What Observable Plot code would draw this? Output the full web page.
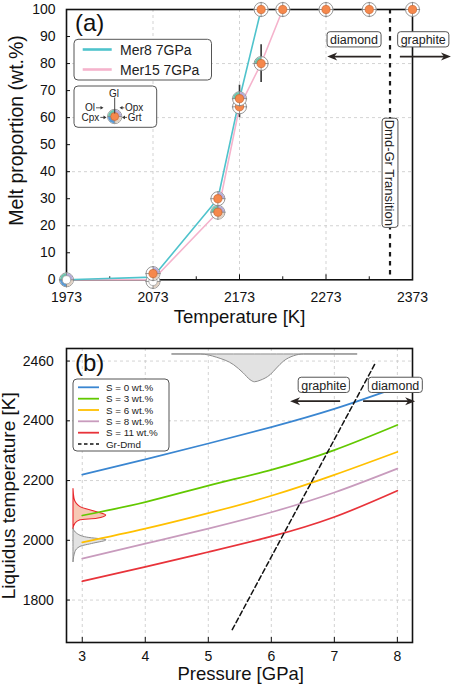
<!DOCTYPE html>
<html>
<head>
<meta charset="utf-8">
<script src="https://cdn.jsdelivr.net/npm/d3@7"></script>
<script src="https://cdn.jsdelivr.net/npm/@observablehq/plot@0.6"></script>
<style>
  html, body { margin: 0; padding: 0; background: #fff; }
  #wrap { width: 452px; }
  #wrap svg { display: block; }
</style>
</head>
<body>
<div id="wrap"></div>
<script>
const FONT = '"Liberation Sans", Arial, Helvetica, sans-serif';

// ---------------- Panel (a) data ----------------
const tempTicks = [1973, 2073, 2173, 2273, 2373];
const tempMinorTicks = [2023, 2123, 2223, 2323];
const meltTicks = [0, 10, 20, 30, 40, 50, 60, 70, 80, 90, 100];
const tempGrid = [2073, 2173, 2273];
const meltGrid = [20, 40, 60, 80];

const mer8Temp = [1973, 2073, 2148, 2173, 2198];
const mer8Melt = [0, 1, 30, 67, 100];
const mer15Temp = [1973, 2073, 2148, 2173, 2198, 2223];
const mer15Melt = [0, 0, 25, 64, 80, 100];

// experimental run markers (drawn in this order)
const expTemp = [1973, 2073, 2073, 2148, 2148, 2173, 2173, 2198, 2198, 2223, 2273, 2323, 2373];
const expMelt = [0, -0.6, 2.3, 25, 30, 64, 67, 80, 100, 100, 100, 100, 100];
const expGlass = [false, false, true, true, true, true, true, true, true, true, true, true, true];
const expPhases = ["Ol Opx Cpx Grt", "Grt", "Opx Grt", "Ol Opx Grt", "Opx", "", "Ol Opx", "Ol", "", "", "", "", ""];

const errTemp = [2173, 2198];
const errLow = [60, 73];
const errHigh = [72, 87];

const transitionTemp = 2347;

const seriesNamesA = ["Mer8 7GPa", "Mer15 7GPa"];
const phaseNames = ["Ol", "Opx", "Cpx", "Grt"];

// ---------------- Panel (b) data ----------------
const pressureTicks = [3, 4, 5, 6, 7, 8];
const liqTempTicks = [1800, 2000, 2200, 2400, 2600];
const liqTempTickLabels = ["1800", "2000", "2200", "2400", "2460"];

const pressure = [3, 4, 5, 6, 7, 8];
const sulfurLabels = ["S = 0 wt.%", "S = 3 wt.%", "S = 6 wt.%", "S = 8 wt.%", "S = 11 wt.%"];
const liqS0 = [2220, 2271, 2324, 2379, 2440, 2512];
const liqS3 = [2083, 2128, 2183, 2236, 2302, 2386];
const liqS6 = [1993, 2039, 2091, 2149, 2219, 2296];
const liqS8 = [1939, 1989, 2039, 2094, 2160, 2240];
const liqS11 = [1863, 1911, 1961, 2013, 2078, 2166];

const grDmdP = [5.38, 7.655];
const grDmdT = [1701, 2595];

// pressure distribution (top) : depth below baseline in K
const topDensP = [4.43, 4.88, 5.14, 5.41, 5.56, 5.67, 5.74, 5.83, 5.99, 6.09, 6.20, 6.36, 6.52, 7.37];
const topDensDepth = [0, 0, 11, 36, 63, 86, 93, 88, 69, 47, 24, 6, 0, 0];
const topDensBase = 2622;

// temperature distributions (left) : width in GPa from baseline
const densBaseP = 2.861;
const sDensT = [2172, 2139, 2111, 2094, 2083, 2072, 2067, 2056, 2039];
const sDensW = [0, 0.016, 0.111, 0.376, 0.519, 0.376, 0.111, 0.032, 0];
const noSDensT = [2039, 2022, 2009, 2000, 1989, 1978, 1961, 1926];
const noSDensW = [0, 0.059, 0.217, 0.524, 0.322, 0.111, 0.032, 0];

// ---------------- colours ----------------
const MER8 = "#4fc3cc", MER15 = "#f5b3cc";
const PHASE_COLORS = {Ol: "#6cc4ad", Opx: "#b5acd9", Cpx: "#5a9bd6", Grt: "#e2d2c3"};
const GL = "#f5884c";
const SCOLORS = ["#3a86d1", "#62c800", "#ffc000", "#c89bbd", "#e8333a"];
const GRID = {stroke: "#c8c8c8", strokeOpacity: 1, strokeWidth: 0.8, strokeDasharray: "3,3"};

// ---------------- records ----------------
const mer8 = mer8Temp.map((t, i) => ({temp: t, melt: mer8Melt[i]}));
const mer15 = mer15Temp.map((t, i) => ({temp: t, melt: mer15Melt[i]}));
const exps = expTemp.map((t, i) => ({temp: t, melt: expMelt[i], glass: expGlass[i], phases: expPhases[i].split(" ").filter(Boolean)}));
const errs = errTemp.map((t, i) => ({temp: t, lo: errLow[i], hi: errHigh[i]}));

function wedge(a0, a1) {
  return {draw(ctx, size) { const r = Math.sqrt(size / Math.PI); ctx.moveTo(0, 0); ctx.arc(0, 0, r, a0, a1); ctx.closePath(); }};
}
const WEDGE = {
  Ol: wedge(Math.PI, 1.5 * Math.PI),
  Opx: wedge(1.5 * Math.PI, 2 * Math.PI),
  Grt: wedge(0, 0.5 * Math.PI),
  Cpx: wedge(0.5 * Math.PI, Math.PI)
};
const CROSS = {draw(ctx, size) { const r = Math.sqrt(size / Math.PI); ctx.moveTo(-r, 0); ctx.lineTo(r, 0); ctx.moveTo(0, -r); ctx.lineTo(0, r); }};

const markerMarks = [];
exps.forEach(d => {
  const one = [d];
  markerMarks.push(Plot.dot(one, {x: "temp", y: "melt", r: 7, fill: "white", stroke: "#8a8a8a", strokeWidth: 0.9}));
  d.phases.forEach(p => markerMarks.push(Plot.dot(one, {x: "temp", y: "melt", r: 6.6, symbol: WEDGE[p], fill: PHASE_COLORS[p], stroke: "none"})));
  markerMarks.push(Plot.dot(one, {x: "temp", y: "melt", r: 7.6, symbol: CROSS, fill: "none", stroke: "#777", strokeWidth: 0.8}));
  markerMarks.push(Plot.dot(one, {x: "temp", y: "melt", r: 4.1, fill: d.glass ? GL : "white", stroke: d.glass ? "#c9642e" : "#999", strokeWidth: 0.7}));
});

const wrap = document.getElementById("wrap");

// ---------------- Panel (a) ----------------
const A = Plot.plot({
  width: 452, height: 330,
  marginLeft: 66, marginRight: 40, marginTop: 9, marginBottom: 50.7,
  style: {fontFamily: FONT, fontSize: "14px", color: "#111", background: "transparent", overflow: "visible"},
  x: {domain: [1973, 2373]},
  y: {domain: [0, 100]},
  marks: [
    Plot.gridX(tempGrid, GRID),
    Plot.gridY(meltGrid, GRID),
    Plot.ruleX([transitionTemp], {stroke: "#1a1a1a", strokeWidth: 2.2, strokeDasharray: "4.5,4.5"}),
    Plot.frame({stroke: "#111", strokeWidth: 1.6}),
    Plot.axisX(tempTicks, {tickSize: -5, tickPadding: 17, tickFormat: d => String(d), label: null}),
    Plot.axisX(tempMinorTicks, {tickSize: -3, tickFormat: () => "", label: null}),
    Plot.axisY(meltTicks, {tickSize: -4, tickPadding: 15, label: null}),
    Plot.line(mer15, {x: "temp", y: "melt", stroke: MER15, strokeWidth: 1.6}),
    Plot.line(mer8, {x: "temp", y: "melt", stroke: MER8, strokeWidth: 1.6}),
    Plot.ruleX(errs, {x: "temp", y1: "lo", y2: "hi", stroke: "#333", strokeWidth: 1.6}),
    ...markerMarks
  ]
});
wrap.appendChild(A);

// ---------------- Panel (b) ----------------
const lineRecords = [liqS0, liqS3, liqS6, liqS8, liqS11].map((arr, k) => pressure.map((p, i) => ({p, t: arr[i], k})));
const grDmd = grDmdP.map((p, i) => ({p, t: grDmdT[i]}));
const topDens = topDensP.map((p, i) => ({p, depth: topDensDepth[i]}));
const sDens = sDensT.map((t, i) => ({t, w: sDensW[i]}));
const noSDens = noSDensT.map((t, i) => ({t, w: noSDensW[i]}));

const B = Plot.plot({
  width: 452, height: 355,
  marginLeft: 66, marginRight: 40, marginTop: 18, marginBottom: 43,
  style: {fontFamily: FONT, fontSize: "14px", color: "#111", background: "transparent", overflow: "visible"},
  x: {domain: [2.75, 8.24]},
  y: {domain: [1658, 2642]},
  marks: [
    Plot.gridX(pressureTicks, GRID),
    Plot.gridY(liqTempTicks, GRID),
    Plot.frame({stroke: "#111", strokeWidth: 1.6}),
    Plot.axisX(pressureTicks, {tickSize: -5, tickPadding: 14, label: null}),
    Plot.axisY(liqTempTicks, {tickSize: -4, tickPadding: 16.7, tickFormat: d => liqTempTickLabels[liqTempTicks.indexOf(d)], label: null}),
    Plot.areaY(topDens, {x: "p", y1: () => topDensBase, y2: d => topDensBase - d.depth, curve: "monotone-x", fill: "#e2e2e2", stroke: "#8c8c8c", strokeWidth: 1}),
    Plot.areaX(noSDens, {y: "t", x1: () => densBaseP, x2: d => densBaseP + d.w, curve: "monotone-y", fill: "#e2e2e2", stroke: "#8c8c8c", strokeWidth: 1}),
    Plot.areaX(sDens, {y: "t", x1: () => densBaseP, x2: d => densBaseP + d.w, curve: "monotone-y", fill: "#f7c8b4", stroke: "#e8262b", strokeWidth: 1.1}),
    ...lineRecords.map((rec, k) => Plot.line(rec, {x: "p", y: "t", stroke: SCOLORS[k], strokeWidth: 1.7, curve: "natural"})),
    Plot.line(grDmd, {x: "p", y: "t", stroke: "#111", strokeWidth: 1.5, strokeDasharray: "5,3"})
  ]
});
wrap.appendChild(B);

// ---------------- helpers ----------------
function labelBox(svg, x, y, text, fontSize, rotate = 0, padX = 3) {
  const g = d3.select(svg).append("g").attr("transform", `translate(${x},${y}) rotate(${rotate})`);
  const rect = g.append("rect");
  const t = g.append("text").attr("text-anchor", "middle").attr("dy", "0.36em")
    .style("font-family", FONT).style("font-size", fontSize + "px").attr("fill", "#222").text(text);
  const bb = t.node().getBBox();
  const h = fontSize * 1.22;
  rect.attr("x", bb.x - padX).attr("y", -h / 2 - 0.5).attr("width", bb.width + 2 * padX).attr("height", h)
    .attr("rx", 3).attr("fill", "white").attr("stroke", "#555").attr("stroke-width", 1);
}
function arrow(svg, xTail, y, xHead, color = "#2a2422") {
  const dir = Math.sign(xHead - xTail);
  const g = d3.select(svg).append("g");
  g.append("line").attr("x1", xTail).attr("y1", y).attr("x2", xHead - dir * 6).attr("y2", y)
    .attr("stroke", color).attr("stroke-width", 1.7);
  g.append("path").attr("d", `M${xHead},${y} L${xHead - dir * 10},${y - 4} L${xHead - dir * 7},${y} L${xHead - dir * 10},${y + 4} Z`).attr("fill", color);
}
function text(svg, x, y, s, size, opts = {}) {
  const t = d3.select(svg).append("text").attr("x", x).attr("y", y)
    .style("font-family", FONT).style("font-size", size + "px").attr("fill", opts.fill || "#111")
    .attr("text-anchor", opts.anchor || "start").text(s);
  if (opts.rotate) t.attr("transform", `rotate(${opts.rotate},${x},${y})`);
  if (opts.dy) t.attr("dy", opts.dy);
  return t;
}

// ---------------- Panel (a) annotations ----------------
{
  const xs = A.scale("x"), ys = A.scale("y");
  const sel = d3.select(A);
  text(A, 23, 130.5, "Melt proportion (wt.%)", 19.5, {anchor: "middle", rotate: -90});
  text(A, 239.5, 323, "Temperature [K]", 18.5, {anchor: "middle"});
  text(A, 75, 31, "(a)", 24);

  // series legend
  sel.append("rect").attr("x", 74).attr("y", 39.3).attr("width", 137.5).attr("height", 40.7).attr("rx", 4)
    .attr("fill", "white").attr("stroke", "#555").attr("stroke-width", 1);
  [[MER8, 49.5], [MER15, 69.5]].forEach(([c, y], i) => {
    sel.append("line").attr("x1", 82.7).attr("x2", 111.7).attr("y1", y).attr("y2", y).attr("stroke", c).attr("stroke-width", 2.6);
    text(A, 120, y, seriesNamesA[i], 14, {dy: "0.36em", fill: "#222"});
  });

  // phase legend
  sel.append("rect").attr("x", 74).attr("y", 86).attr("width", 82.7).attr("height", 41.3).attr("rx", 4)
    .attr("fill", "white").attr("stroke", "#555").attr("stroke-width", 1);
  const cx = 114.7, cy = 116.5, R = 7.2;
  sel.append("circle").attr("cx", cx).attr("cy", cy).attr("r", R).attr("fill", "white").attr("stroke", "#888").attr("stroke-width", 0.8);
  const arc = d3.arc().innerRadius(0).outerRadius(R - 0.4);
  const qa = {Ol: [-Math.PI / 2, 0], Opx: [0, Math.PI / 2], Grt: [Math.PI / 2, Math.PI], Cpx: [Math.PI, 1.5 * Math.PI]};
  phaseNames.forEach(p => sel.append("path").attr("transform", `translate(${cx},${cy})`)
    .attr("d", arc({startAngle: qa[p][0], endAngle: qa[p][1]})).attr("fill", PHASE_COLORS[p]));
  sel.append("path").attr("d", `M${cx - R},${cy}H${cx + R}M${cx},${cy - R}V${cy + R}`).attr("stroke", "#777").attr("stroke-width", 0.7);
  sel.append("circle").attr("cx", cx).attr("cy", cy).attr("r", 4).attr("fill", GL).attr("stroke", "#c9642e").attr("stroke-width", 0.6);
  sel.append("line").attr("x1", cx).attr("x2", cx).attr("y1", 97.5).attr("y2", cy - 3).attr("stroke", "#333").attr("stroke-width", 0.9);
  text(A, 114, 93.5, "Gl", 10, {anchor: "middle", dy: "0.36em", fill: "#222"});
  const small = (x1, x2, y) => {
    const dir = Math.sign(x2 - x1);
    sel.append("line").attr("x1", x1).attr("x2", x2 - dir * 2).attr("y1", y).attr("y2", y).attr("stroke", "#333").attr("stroke-width", 0.8);
    sel.append("path").attr("d", `M${x2},${y}L${x2 - dir * 3},${y - 1.8}L${x2 - dir * 3},${y + 1.8}Z`).attr("fill", "#333");
  };
  text(A, 95, 107.8, "Ol", 10, {anchor: "end", dy: "0.36em", fill: "#222"}); small(96, 103.5, 107.8);
  text(A, 99.3, 117.4, "Cpx", 10, {anchor: "end", dy: "0.36em", fill: "#222"}); small(100.3, 106.5, 117.4);
  text(A, 125, 107.8, "Opx", 10, {anchor: "start", dy: "0.36em", fill: "#222"}); small(124.3, 119.5, 107.8);
  text(A, 127.7, 117.4, "Grt", 10, {anchor: "start", dy: "0.36em", fill: "#222"}); small(127, 122, 117.4);

  // phase-field annotations
  labelBox(A, xs.apply(2306), ys.apply(88.6), "diamond", 12.5);
  labelBox(A, xs.apply(2386), ys.apply(88.6), "graphite", 12.5);
  arrow(A, xs.apply(2337), ys.apply(82.4), xs.apply(2275));
  arrow(A, xs.apply(2359), ys.apply(82.4), xs.apply(2418));
  labelBox(A, xs.apply(transitionTemp), ys.apply(39.4), "Dmd-Gr Transition", 13, 90, 1.5);
}

// ---------------- Panel (b) annotations ----------------
{
  const xs = B.scale("x"), ys = B.scale("y");
  const sel = d3.select(B);
  text(B, 15.5, 165.8, "Liquidus temperature [K]", 19, {anchor: "middle", rotate: -90});
  text(B, 240.7, 350, "Pressure [GPa]", 18.5, {anchor: "middle"});
  text(B, 75, 41, "(b)", 24);

  sel.append("rect").attr("x", 73).attr("y", 49).attr("width", 96).attr("height", 72).attr("rx", 4)
    .attr("fill", "white").attr("stroke", "#555").attr("stroke-width", 1);
  const rows = [57.3, 68.7, 80, 91.3, 102.7, 114];
  sulfurLabels.forEach((lab, i) => {
    sel.append("line").attr("x1", 78).attr("x2", 99).attr("y1", rows[i]).attr("y2", rows[i]).attr("stroke", SCOLORS[i]).attr("stroke-width", 1.8);
    text(B, 106, rows[i], lab, 9.8, {dy: "0.36em", fill: "#222"});
  });
  sel.append("line").attr("x1", 78).attr("x2", 99).attr("y1", rows[5]).attr("y2", rows[5]).attr("stroke", "#111").attr("stroke-width", 1.5).attr("stroke-dasharray", "3.5,2.5");
  text(B, 106, rows[5], "Gr-Dmd", 9.8, {dy: "0.36em", fill: "#222"});

  labelBox(B, xs.apply(6.84), ys.apply(2517), "graphite", 12.5);
  labelBox(B, xs.apply(7.975), ys.apply(2517), "diamond", 12.5);
  arrow(B, xs.apply(7.10), ys.apply(2464), xs.apply(6.306));
  arrow(B, xs.apply(7.464), ys.apply(2464), xs.apply(8.29));
}
</script>
</body>
</html>
